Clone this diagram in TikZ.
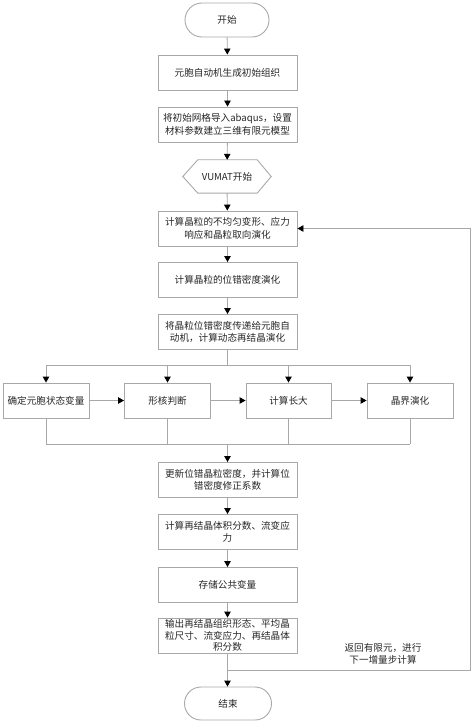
\documentclass[tikz,border=0pt]{standalone}
\usepackage{fontspec}
\setmainfont{Noto Sans CJK SC}
\usetikzlibrary{arrows.meta,shapes.misc,calc}
\definecolor{lg}{HTML}{A8A8A8}
\definecolor{tx}{HTML}{262626}
\begin{document}
\begin{tikzpicture}[x=1pt,y=-1pt,
  txt/.style={text=tx, font=\fontsize{9.6}{12.5}\selectfont},
  box/.style={txt, draw=lg, line width=0.9pt, minimum width=139pt, minimum height=35pt, inner sep=0pt, align=center},
  rowbox/.style={box, minimum width=86pt},
  term/.style={txt, draw=lg, line width=0.9pt, rounded rectangle, minimum width=84pt, minimum height=34pt, inner sep=0pt},
  conn/.style={draw=lg, line width=0.9pt},
  arr/.style={conn, -{Triangle[length=6pt,width=6.5pt,color=black,fill=black]}}
]
\useasboundingbox (0,0) rectangle (474,727);

\node[term] (start) at (227,20) {开始};
\node[box] (b1) at (227.5,72.5) {元胞自动机生成初始组织};
\node[box] (b2) at (227.5,124.5) {将初始网格导入abaqus，设置\\材料参数建立三维有限元模型};
\node[txt, minimum width=88pt, minimum height=33pt, inner sep=0pt] (hex) at (227,176.5) {VUMAT开始};
\draw[draw=lg, line width=0.9pt] (hex.west) -- ([xshift=15pt]hex.north west) -- ([xshift=-14pt]hex.north east) -- (hex.east) -- ([xshift=-14pt]hex.south east) -- ([xshift=15pt]hex.south west) -- cycle;
\node[box] (b3) at (227.5,228.5) {计算晶粒的不均匀变形、应力\\响应和晶粒取向演化};
\node[box] (b4) at (227.5,280) {计算晶粒的位错密度演化};
\node[box] (b5) at (227.5,332) {将晶粒位错密度传递给元胞自\\动机，计算动态再结晶演化};

\node[rowbox] (ra) at (46,400.5) {确定元胞状态变量};
\node[rowbox] (rb) at (167.5,400.5) {形核判断};
\node[rowbox, minimum width=85pt] (rc) at (288.5,400.5) {计算长大};
\node[rowbox] (rd) at (410,400.5) {晶界演化};

\node[box] (b6) at (227.5,480) {更新位错晶粒密度，并计算位\\错密度修正系数};
\node[box] (b7) at (227.5,532) {计算再结晶体积分数、流变应\\力};
\node[box] (b8) at (227.5,585) {存储公共变量};
\node[box, font=\fontsize{9.6}{11.6}\selectfont] (b9) at (227.5,635.5) {输出再结晶组织形态、平均晶\\粒尺寸、流变应力、再结晶体\\积分数};
\node[term, minimum width=87pt, minimum height=33pt] (end) at (228,703.5) {结束};

\draw[arr] (start) -- (b1);
\draw[arr] (b1) -- (b2);
\draw[arr] (b2) -- (hex);
\draw[arr] (hex) -- (b3);
\draw[arr] (b3) -- (b4);
\draw[arr] (b4) -- (b5);

\coordinate (bus1) at (227.5,365);
\coordinate (bl1) at (46,365);
\coordinate (br1) at (410,365);
\coordinate (bb1) at (167.5,365);
\coordinate (bc1) at (288.5,365);
\draw[conn] (b5.south) -- (bus1);
\draw[conn] (bl1) -- (br1);
\draw[arr] (bl1) -- (ra.north);
\draw[arr] (bb1) -- (rb.north);
\draw[arr] (bc1) -- (rc.north);
\draw[arr] (br1) -- (rd.north);

\draw[arr] (ra) -- (rb);
\draw[arr] (rb) -- (rc);
\draw[arr] (rc) -- (rd);

\coordinate (bl2) at (46,444);
\coordinate (br2) at (410,444);
\coordinate (bus2) at (227.5,444);
\draw[conn] (ra.south) -- (bl2);
\draw[conn] (rb.south) -- (rb.south |- bl2);
\draw[conn] (rc.south) -- (rc.south |- bl2);
\draw[conn] (rd.south) -- (br2);
\draw[conn] (bl2) -- (br2);
\draw[arr] (bus2) -- (b6);

\draw[arr] (b6) -- (b7);
\draw[arr] (b7) -- (b8);
\draw[arr] (b8) -- (b9);
\draw[arr] (b9) -- (b9.south |- end.north);

\coordinate (r1) at (227.5,670);
\coordinate (r2) at (470,670);
\coordinate (r3) at (470,228.5);
\draw[arr] (r1) -- (r2) -- (r3) -- (b3.east);
\node[txt, align=center, font=\fontsize{9.6}{12}\selectfont, anchor=south] (lbl) at (383,668) {返回有限元，进行\\下一增量步计算};
\end{tikzpicture}
\end{document}
